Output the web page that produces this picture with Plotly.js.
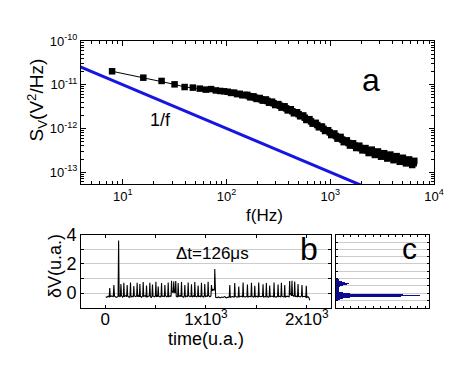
<!DOCTYPE html>
<html><head><meta charset="utf-8">
<script src="https://cdn.plot.ly/plotly-3.0.1.min.js"></script>
<style>html,body{margin:0;padding:0;background:#fff}#chart{width:474px;height:373px}</style>
</head><body><div id="chart"></div>
<script>
// ---------- Panel a : noise spectrum ----------
const specFreq = [7.9, 15.8, 23.7, 31.6, 39.5, 47.4, 55.3, 63.2,
  71.1, 79.0, 86.9, 94.8, 102.7, 110.6, 118.5, 126.4, 134.3, 142.2, 150.1,
  158.5, 164.1, 169.8, 175.8, 182, 188.4, 195, 201.8, 208.9, 216.3,
  223.9, 231.7, 239.9, 248.3, 257, 266.1, 275.4, 285.1, 295.1, 305.5,
  316.2, 327.3, 338.8, 350.8, 363.1, 375.8, 389, 402.7, 416.9, 431.5,
  446.7, 462.4, 478.6, 495.5, 512.9, 530.9, 549.5, 568.9, 588.8, 609.5,
  631, 653.1, 676.1, 699.8, 724.4, 749.9, 776.2, 803.5, 831.8, 861,
  891.3, 922.6, 955, 988.6, 1023, 1059, 1096, 1135, 1175, 1216,
  1259, 1303, 1349, 1396, 1445, 1496, 1549, 1603, 1660, 1718,
  1778, 1841, 1905, 1972, 2042, 2113, 2188, 2265, 2344, 2427,
  2512, 2600, 2692, 2786, 2884, 2985, 3090, 3199, 3311, 3428,
  3548, 3673, 3802, 3936, 4074, 4217, 4365, 4519, 4677, 4842,
  5012, 5188, 5370, 5559, 5754, 5957, 6166, 6383, 6457];
// S_V in units of 1e-12 V^2/Hz
const specPSD = [20.3, 14.5, 12.2, 10.2, 8.86, 8.59, 8.15, 7.73,
  7.94, 7.41, 7.2, 7.08, 6.9, 6.5, 6.6, 6.1, 6.2, 5.75, 5.85,
  5.86, 5.50, 5.15, 5.28, 5.42, 5.06, 4.73, 4.84, 4.97, 4.63,
  4.33, 4.45, 4.60, 4.25, 3.88, 3.99, 4.09, 3.75, 3.43, 3.52,
  3.61, 3.31, 3.00, 3.11, 3.21, 2.88, 2.59, 2.67, 2.75, 2.47,
  2.22, 2.29, 2.35, 2.12, 1.90, 1.94, 1.98, 1.76, 1.56, 1.60,
  1.63, 1.45, 1.291, 1.318, 1.346, 1.197, 1.064, 1.086, 1.107, 0.984,
  0.875, 0.893, 0.912, 0.811, 0.705, 0.736, 0.769, 0.671, 0.585, 0.612,
  0.641, 0.558, 0.486, 0.511, 0.535, 0.466, 0.406, 0.431, 0.458, 0.405,
  0.357, 0.379, 0.404, 0.356, 0.315, 0.335, 0.356, 0.315, 0.274, 0.300,
  0.328, 0.286, 0.248, 0.272, 0.298, 0.259, 0.226, 0.247, 0.272, 0.237,
  0.205, 0.228, 0.253, 0.218, 0.188, 0.209, 0.233, 0.201, 0.173, 0.192,
  0.214, 0.184, 0.159, 0.176, 0.196, 0.169, 0.146, 0.161, 0.182];
const oneOverFFreq = [1, 10000];
const oneOverFPSD = [1e-10, 1e-14];
const freqTickVals = [10, 100, 1000, 10000];
const freqTickText = ['10<sup>1</sup>', '10<sup>2</sup>', '10<sup>3</sup>', '10<sup>4</sup>'];
const psdTickVals = [1e-13, 1e-12, 1e-11, 1e-10];
const psdTickText = ['10<sup>-13</sup>', '10<sup>-12</sup>', '10<sup>-11</sup>', '10<sup>-10</sup>'];

// ---------- Panel b : time trace ----------
const timeUA = [5, 15, 30,
  40, 45, 50,
  65, 80, 86, 92,
  110, 128, 133, 138,
  150, 156, 161,
  173, 180, 185, 190,
  205, 213, 218, 223,
  238, 246, 251, 256,
  270, 279, 284, 289,
  303, 312, 317, 322,
  333, 339, 344, 349,
  362, 372, 377, 382,
  396, 405, 410, 415,
  430, 438, 443, 448,
  458, 464, 469, 474,
  488, 498, 503, 508,
  516, 521, 526, 531,
  545, 554, 559, 564,
  578, 587, 592, 597,
  612, 620, 625, 630,
  645, 653, 658, 663, 670, 675, 680, 685, 692, 695, 700, 705,
  714, 719, 724, 729,
  743, 752, 757, 762,
  776, 785, 790, 795,
  810, 818, 823, 828,
  842, 851, 856, 861,
  875, 884, 889, 894,
  908, 917, 922, 927,
  941, 950, 955, 960,
  974, 983, 988, 993,
  1007, 1016, 1021, 1026,
  1038, 1049, 1054, 1060, 1070, 1080, 1084, 1087, 1091, 1096,
  1110, 1125, 1140, 1155, 1170, 1185, 1200, 1215,
  1231, 1236, 1241,
  1260, 1280, 1285, 1290,
  1308, 1320, 1325, 1330,
  1350, 1363, 1368, 1373,
  1392, 1406, 1411, 1416,
  1432, 1446, 1451, 1456,
  1470, 1479, 1484, 1489,
  1505, 1518, 1523, 1528,
  1545, 1561, 1566, 1571,
  1585, 1594, 1599, 1604,
  1618, 1627, 1632, 1637,
  1655, 1670, 1675, 1680,
  1698, 1710, 1715, 1720,
  1733, 1743, 1748, 1753,
  1766, 1776, 1781, 1786,
  1805, 1825, 1830, 1835,
  1843, 1848, 1853, 1858,
  1870, 1875, 1880, 1885,
  1898, 1908, 1913, 1918,
  1935, 1947, 1952, 1957,
  1975, 1990, 1995, 2000,
  2012, 2022, 2029];
const deltaV = [-0.25, -0.30, -0.22,
  -0.28, 0.35, -0.25,
  -0.20, -0.27, 0.55, -0.22,
  -0.30, -0.24, 3.62, -0.20,
  -0.26, 0.62, -0.18,
  -0.28, -0.22, 0.70, -0.25,
  -0.18, -0.26, 0.55, -0.21,
  -0.30, -0.20, 0.72, -0.27,
  -0.22, -0.28, 0.48, -0.19,
  -0.25, -0.21, 0.70, -0.26,
  -0.17, -0.27, 0.62, -0.23,
  -0.29, -0.20, 0.75, -0.24,
  -0.19, -0.26, 0.52, -0.28,
  -0.22, -0.18, 0.70, -0.25,
  -0.30, -0.23, 0.58, -0.20,
  -0.26, -0.21, 0.78, -0.27,
  -0.19, -0.25, 0.45, -0.22,
  -0.28, -0.20, 0.68, -0.24,
  -0.21, -0.27, 0.55, -0.19,
  -0.26, -0.22, 0.72, -0.25,
  -0.20, -0.24, 0.85, 0.05, 0.10, 0.02, 0.80, 0.08, 0.00, 0.12, 0.82, -0.22,
  -0.27, -0.21, 0.68, -0.26,
  -0.18, -0.25, 0.75, -0.22,
  -0.29, -0.20, 0.55, -0.27,
  -0.21, -0.26, 0.72, -0.19,
  -0.25, -0.22, 0.60, -0.28,
  -0.19, -0.27, 0.75, -0.21,
  -0.26, -0.20, 0.52, -0.24,
  -0.22, -0.28, 0.70, -0.20,
  -0.27, -0.19, 0.62, -0.25,
  -0.20, -0.24, 0.78, -0.18,
  -0.26, -0.21, 0.55, 0.15, 0.25, 0.20, 0.30, 1.65, 0.10, -0.30,
  -0.32, -0.27, -0.34, -0.28, -0.31, -0.25, -0.33, -0.29,
  -0.26, 0.55, -0.30,
  -0.24, -0.28, 0.68, -0.22,
  -0.29, -0.25, 0.45, -0.27,
  -0.21, -0.28, 0.72, -0.24,
  -0.27, -0.22, 0.58, -0.29,
  -0.23, -0.26, 0.70, -0.21,
  -0.28, -0.24, 0.50, -0.27,
  -0.22, -0.29, 0.72, -0.23,
  -0.26, -0.21, 0.60, -0.28,
  -0.24, -0.27, 0.68, -0.22,
  -0.29, -0.23, 0.52, -0.26,
  -0.21, -0.27, 0.72, -0.24,
  -0.28, -0.22, 0.58, -0.25,
  -0.23, -0.28, 0.70, -0.21,
  -0.27, -0.24, 0.55, -0.29,
  -0.22, -0.26, 0.82, -0.10,
  -0.05, -0.20, 0.85, -0.15,
  -0.24, -0.12, 0.80, -0.25,
  -0.22, -0.28, 0.62, -0.23,
  -0.27, -0.21, 0.55, -0.26,
  -0.23, -0.28, 0.50, -0.30,
  -0.26, -0.34, -0.50];
const timeTickVals = [0, 500, 1000, 1500, 2000];
const timeTickText = ['0', '', '1x10<sup>3</sup>', '', '2x10<sup>3</sup>'];
const dVTickVals = [-1, 0, 1, 2, 3, 4];
const dVTickText = ['', '0', '', '2', '', '4'];

// ---------- Panel c : histogram of δV ----------
const histLevel = [-0.475, -0.425, -0.375, -0.325, -0.275, -0.225, -0.175, -0.125, -0.075, -0.025,
  0.025, 0.075, 0.125, 0.175, 0.225, 0.275, 0.325, 0.375, 0.425, 0.475,
  0.525, 0.575, 0.625, 0.675, 0.725, 0.775, 0.825, 0.875, 0.925, 0.975, 1.025];
const histCount = [2, 4, 7, 15, 35, 70, 90, 72, 35, 15,
  7, 4, 3, 3, 3, 3, 3, 3, 4, 5,
  8, 12, 15, 14, 10, 6, 4, 3, 3, 2, 1];

const FONT = 'Liberation Sans, Arial, sans-serif';

const traces = [
  {x: oneOverFFreq, y: oneOverFPSD, xaxis: 'x', yaxis: 'y', mode: 'lines',
   line: {color: '#1616e0', width: 3}, hoverinfo: 'skip'},
  {x: specFreq, y: specPSD.map(v => v * 1e-12), xaxis: 'x', yaxis: 'y', mode: 'lines+markers',
   line: {color: '#000', width: 1}, marker: {symbol: 'square', size: 6.5, color: '#000'}},
  {x: timeUA, y: deltaV, xaxis: 'x2', yaxis: 'y2', mode: 'lines',
   line: {color: '#000', width: 1.1}},
  {x: histCount, y: histLevel, xaxis: 'x3', yaxis: 'y3', type: 'bar', orientation: 'h',
   width: 0.05, marker: {color: '#0b0b92', line: {width: 0}}}
];

const box = {showline: true, linecolor: '#000', linewidth: 1, mirror: 'allticks',
  ticks: 'inside', tickcolor: '#000', tickwidth: 1, zeroline: false};

function note(text, px, py, size, angle) {
  return {text: text, x: px / 474, y: 1 - py / 373, xref: 'paper', yref: 'paper',
    xanchor: 'center', yanchor: 'middle', showarrow: false, textangle: angle || 0,
    font: {size: size}};
}

const layout = {
  width: 474, height: 373, margin: {l: 0, r: 0, t: 0, b: 0},
  paper_bgcolor: '#fff', plot_bgcolor: '#fff', showlegend: false,
  font: {family: FONT, color: '#000', size: 13},
  bargap: 0,
  xaxis: Object.assign({}, box, {domain: [0.1709, 0.9156], anchor: 'y', type: 'log', range: [0.598, 4],
    tickmode: 'array', tickvals: freqTickVals, ticktext: freqTickText, ticklen: 5, showgrid: false,
    minor: {ticks: 'inside', ticklen: 3, dtick: 'D1', tickcolor: '#000', showgrid: false},
    tickfont: {size: 13}}),
  yaxis: Object.assign({}, box, {domain: [0.5067, 0.8901], anchor: 'x', type: 'log', range: [-13.27, -10],
    tickmode: 'array', tickvals: psdTickVals, ticktext: psdTickText, ticklen: 5, showgrid: false,
    minor: {ticks: 'inside', ticklen: 3, dtick: 'D1', tickcolor: '#000', showgrid: false},
    tickfont: {size: 13}}),
  xaxis2: Object.assign({}, box, {domain: [0.1709, 0.6983], anchor: 'y2', range: [-240, 2240],
    tickmode: 'array', tickvals: timeTickVals, ticktext: timeTickText, ticklen: 3, showgrid: false,
    ticklabelstandoff: -4, tickfont: {size: 17}}),
  yaxis2: Object.assign({}, box, {domain: [0.1756, 0.37], anchor: 'x2', range: [-1, 4],
    tickmode: 'array', tickvals: dVTickVals, ticktext: dVTickText, ticklen: 3,
    showgrid: true, gridcolor: '#cccccc', gridwidth: 1, tickfont: {size: 18}}),
  xaxis3: Object.assign({}, box, {domain: [0.7089, 0.9051], anchor: 'y3', range: [0, 100],
    dtick: 8, ticklen: 2, showticklabels: false, showgrid: false}),
  yaxis3: Object.assign({}, box, {domain: [0.1756, 0.37], anchor: 'x3', range: [-1, 4],
    dtick: 0.5, ticklen: 2, showticklabels: false, showgrid: true, gridcolor: '#cccccc'}),
  annotations: [
    note('a', 370.8, 79.5, 32),
    note('1/f', 160, 119.5, 18),
    note('f(Hz)', 264, 215, 17),
    note('S<sub>V</sub>(V<sup>2</sup>/Hz)', 37, 100.5, 19, -90),
    note('\u0394t=126\u03bcs', 212, 253, 17),
    note('b', 309, 249, 32),
    note('c', 409, 248.5, 30),
    note('time(u.a.)', 206, 339, 18),
    note('\u03b4V(u.a.)', 55, 266, 18, -90)
  ]
};

Plotly.newPlot('chart', traces, layout, {staticPlot: true, displayModeBar: false});
</script>
</body></html>
